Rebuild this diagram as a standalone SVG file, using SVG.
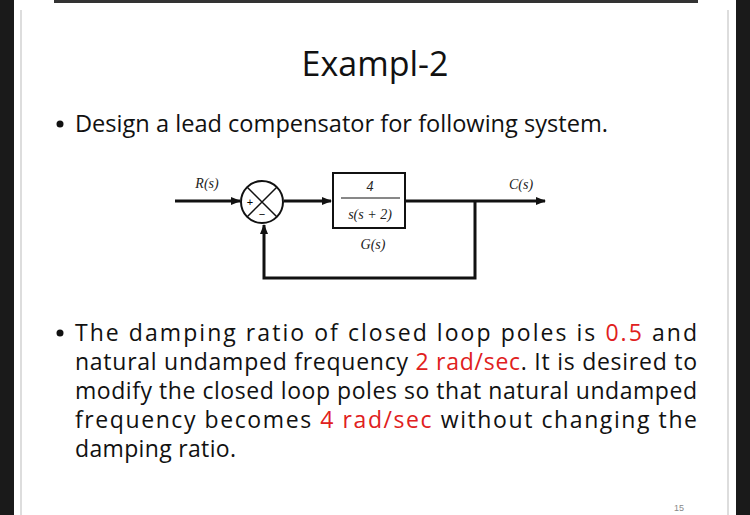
<svg xmlns="http://www.w3.org/2000/svg" width="750" height="515" viewBox="0 0 750 515">
<style>
.t{font-family:"Open Sans","Liberation Sans",sans-serif;fill:#111}
.m{font-family:"Liberation Serif",serif;font-style:italic;fill:#222;font-size:14px}
.r{fill:#e02020}
.w{stroke:#111;stroke-width:3;fill:none}
</style>
<defs><marker id="a" markerWidth="10" markerHeight="8" refX="9" refY="4" orient="auto" markerUnits="userSpaceOnUse"><path d="M0,0L10,4L0,8z" fill="#111"/></marker></defs>
<rect width="750" height="515" fill="#fff"/>
<rect x="0" y="0" width="14" height="515" fill="#1a1a1a"/>
<rect x="736" y="0" width="14" height="515" fill="#1a1a1a"/>
<rect x="54" y="0" width="644" height="3" fill="#333"/>
<line x1="21" y1="10" x2="21" y2="515" stroke="#ddd" stroke-width="2"/>
<line x1="728" y1="10" x2="728" y2="515" stroke="#ddd" stroke-width="2"/>
<text class="t" x="375" y="76" text-anchor="middle" font-size="34">Exampl-2</text>
<circle cx="60" cy="124" r="3.5" fill="#111"/>
<text class="t" x="75" y="132" font-size="23" textLength="533" lengthAdjust="spacingAndGlyphs">Design a lead compensator for following system.</text>
<g id="connectors">
<path class="w" d="M175,201H240" marker-end="url(#a)"/>
<path class="w" d="M284,201H331" marker-end="url(#a)"/>
<path class="w" d="M405,201H545" marker-end="url(#a)"/>
<path class="w" d="M475,201V278H264V225" marker-end="url(#a)"/>
</g>
<g id="sum">
<circle cx="262" cy="202" r="21" fill="#fff" stroke="#111" stroke-width="2"/>
<path d="M247,187L277,217M277,187L247,217" stroke="#111" stroke-width="1.5"/>
<text x="250" y="206" font-family="Liberation Sans,sans-serif" font-size="11" text-anchor="middle">+</text>
<text x="262" y="218" font-family="Liberation Sans,sans-serif" font-size="11" text-anchor="middle">−</text>
</g>
<g id="G">
<rect x="333" y="173" width="72" height="55" fill="#fff" stroke="#111" stroke-width="2"/>
<text class="m" x="370" y="191" text-anchor="middle" font-style="normal">4</text>
<line x1="341" y1="198" x2="400" y2="198" stroke="#111" stroke-width="1"/>
<text class="m" x="370" y="219" text-anchor="middle">s(s + 2)</text>
<text class="m" x="373" y="249" text-anchor="middle">G(s)</text>
</g>
<text class="m" x="207" y="188" text-anchor="middle">R(s)</text>
<text class="m" x="521" y="189" text-anchor="middle">C(s)</text>
<g class="t" font-size="23">
<circle cx="60" cy="333" r="3.5" fill="#111"/>
<text x="75" y="341" textLength="622" lengthAdjust="spacing">The damping ratio of closed loop poles is <tspan class="r">0.5</tspan> and</text>
<text x="75" y="370" textLength="622" lengthAdjust="spacing">natural undamped frequency <tspan class="r">2 rad/sec</tspan>. It is desired to</text>
<text x="75" y="399" textLength="622" lengthAdjust="spacing">modify the closed loop poles so that natural undamped</text>
<text x="75" y="428" textLength="622" lengthAdjust="spacing">frequency becomes <tspan class="r">4 rad/sec</tspan> without changing the</text>
<text x="75" y="457" textLength="161" lengthAdjust="spacing">damping ratio.</text>
</g>
<text x="679" y="511" font-family="Liberation Sans,sans-serif" font-size="9" fill="#888" text-anchor="middle">15</text>
</svg>
